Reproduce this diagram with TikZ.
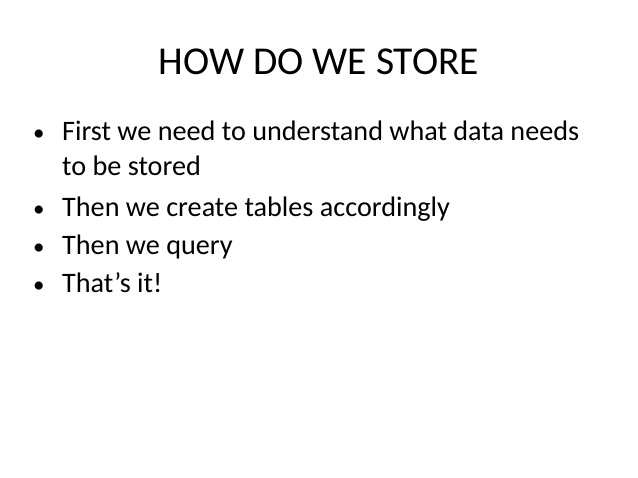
\documentclass[tikz,border=0pt]{standalone}
\usepackage{fontspec}
\setmainfont{Carlito}
\begin{document}
\begin{tikzpicture}[x=1pt,y=-1pt,
  body/.style={anchor=base west,inner sep=0pt,font=\fontsize{28.2}{32}\selectfont},
  dot/.style={anchor=base west,inner sep=0pt,font=\fontsize{23}{27}\selectfont}]
\useasboundingbox[fill=white] (0,0) rectangle (638,478);
\node[anchor=base,inner sep=0pt,font=\fontsize{39.5}{44}\selectfont] (title) at (319,75) {HOW DO WE STORE};
\node[dot] (b1) at (33,141) {•};
\node[body] (t1) at (62,141) {First we need to understand what data needs};
\node[body] (t1b) at (62,176) {to be stored};
\node[dot] (b2) at (33,217) {•};
\node[body] (t2) at (62,217) {Then we create tables accordingly};
\node[dot] (b3) at (33,255) {•};
\node[body] (t3) at (62,255) {Then we query};
\node[dot] (b4) at (33,293) {•};
\node[body] (t4) at (62,293) {That’s it!};
\end{tikzpicture}
\end{document}
